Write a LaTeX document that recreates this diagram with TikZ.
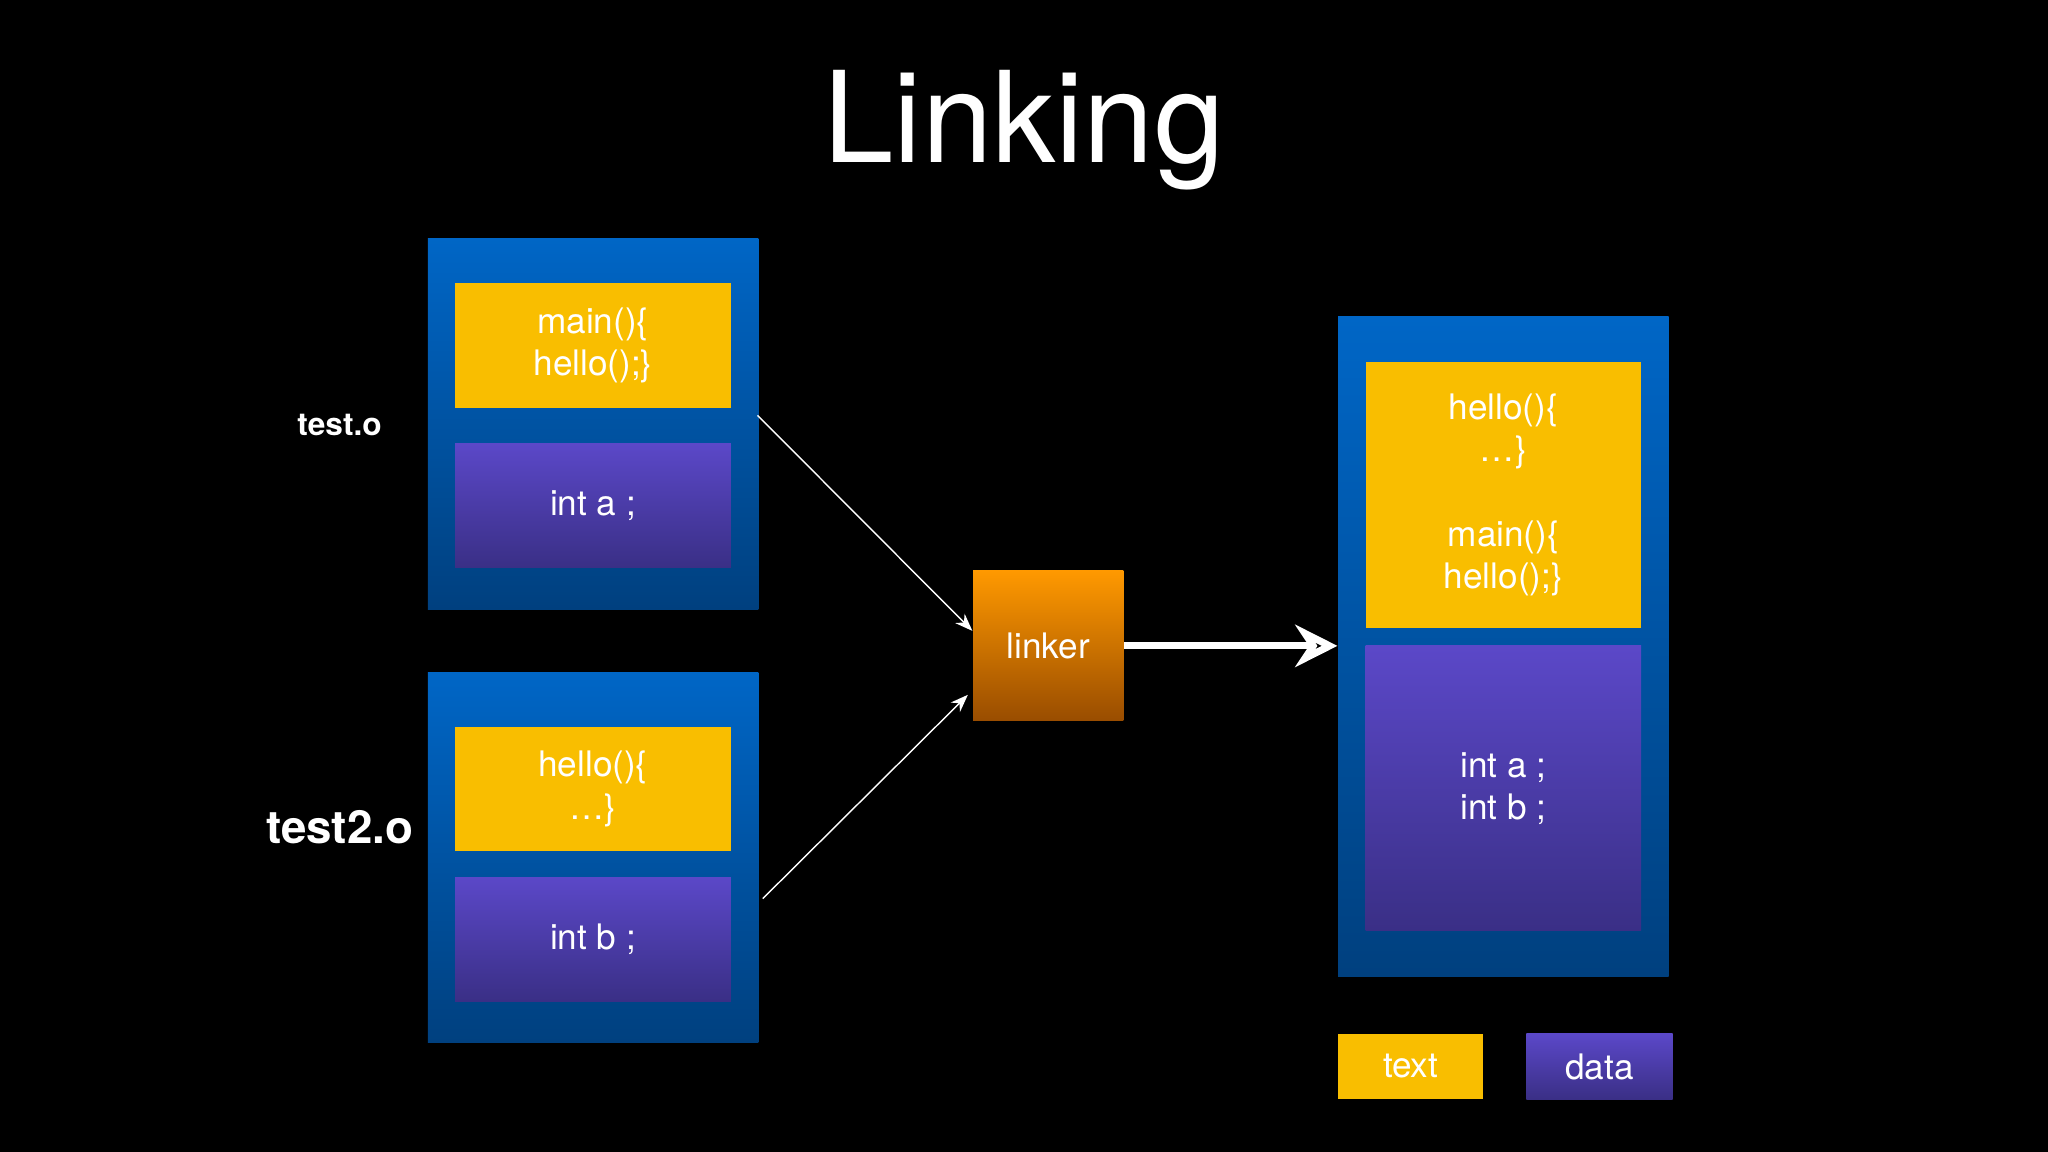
\documentclass[tikz,border=0pt]{standalone}
\usepackage{fontspec}
\setmainfont{TeX Gyre Heros}
\usetikzlibrary{arrows.meta,positioning}
\definecolor{secblue}{HTML}{0066C6}
\definecolor{secbluedk}{HTML}{00407F}
\definecolor{txtyel}{HTML}{F9BE00}
\definecolor{datpur}{HTML}{5B48C8}
\definecolor{datpurdk}{HTML}{3A2F86}
\tikzset{
	obj/.style={draw=none,top color=secblue,bottom color=secbluedk,rectangle,anchor=north west,inner sep=0pt},
	tx/.style={fill=txtyel,rectangle,anchor=north west,inner sep=0pt,text=white,align=center,font=\fontsize{10}{12}\selectfont},
	da/.style={top color=datpur,bottom color=datpurdk,rectangle,anchor=north west,inner sep=0pt,text=white,align=center,font=\fontsize{10}{12}\selectfont},
	lbl/.style={text=white,font=\bfseries},
	link/.style={white,-{Stealth[length=5pt]},line width=0.4pt},
}

\begin{document}
\begin{tikzpicture}[x=0.013061cm,y=-0.013061cm]
	\fill[black] (0,0) rectangle (1568,882);
	\useasboundingbox (0,0) rectangle (1568,882);

	\node[text=white,font=\fontsize{36}{40}\selectfont] (title) at (784,100) {Linking};

	% test.o
	\node[obj,minimum width=253*0.013061cm,minimum height=284*0.013061cm] (obja) at (327,182) {};
	\node[tx,minimum width=211*0.013061cm,minimum height=96*0.013061cm] (texta) at (348,216) {main()\{\\hello();\}};
	\node[da,minimum width=211*0.013061cm,minimum height=95*0.013061cm] (dataa) at (348,339) {int a ;};
	\node[lbl,font=\fontsize{9}{11}\selectfont\bfseries] (namea) at (260,325) {test.o};

	% test2.o
	\node[obj,minimum width=253*0.013061cm,minimum height=284*0.013061cm] (objb) at (327,514) {};
	\node[tx,minimum width=211*0.013061cm,minimum height=95*0.013061cm] (textb) at (348,556) {hello()\{\\\ldots\}};
	\node[da,minimum width=211*0.013061cm,minimum height=95*0.013061cm] (datab) at (348,671) {int b ;};
	\node[lbl,font=\fontsize{13}{15}\selectfont\bfseries] (nameb) at (260,633) {test2.o};

	% linker
	\node[top color=orange!80!yellow,bottom color=orange!60!black,minimum size=115*0.013061cm,inner sep=0pt,text=white,font=\fontsize{10}{12}\selectfont] (linker) at (802.5,494.5) {linker};

	% output
	\node[obj,minimum width=253*0.013061cm,minimum height=505*0.013061cm] (objc) at (1024,242) {};
	\node[tx,minimum width=211*0.013061cm,minimum height=203*0.013061cm] (textc) at (1045,277) {hello()\{\\\ldots\}\\[1.2em]main()\{\\hello();\}};
	\node[da,minimum width=211*0.013061cm,minimum height=218*0.013061cm] (datac) at (1045,494) {int a ;\\int b ;};

	% legend
	\node[tx,minimum width=111*0.013061cm,minimum height=50*0.013061cm] (keyt) at (1024,791) {text};
	\node[da,minimum width=112*0.013061cm,minimum height=50*0.013061cm] (keyd) at (1168,791) {data};

	\coordinate (outa) at (580,318);
	\coordinate (outb) at (584,688);
	\draw[link] (outa) -- (linker.west |- 0,483);
	\draw[link] (outb) -- (741,532);
	\draw[white,line width=2pt,-{Stealth[length=12pt,width=12pt,open]}] (linker.east) -- (objc.west |- linker.east);
\end{tikzpicture}
\end{document}
